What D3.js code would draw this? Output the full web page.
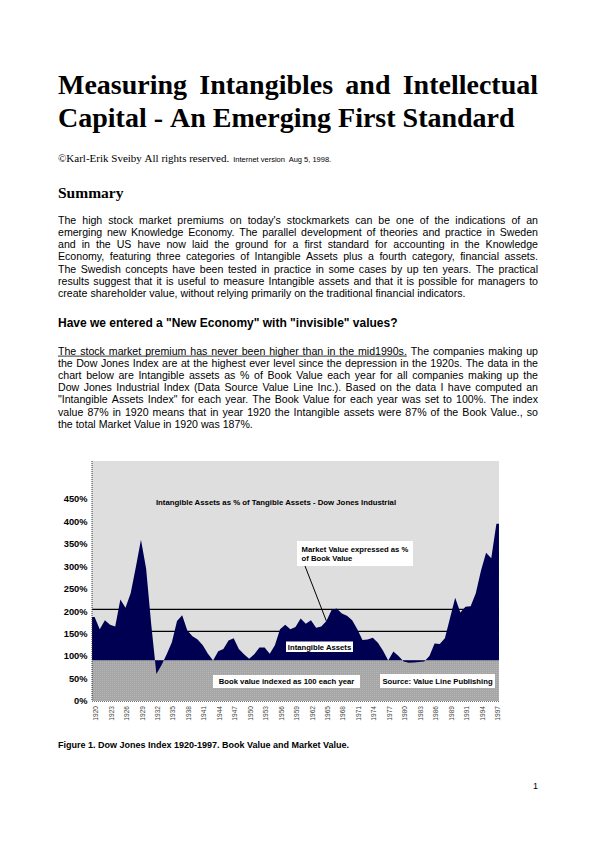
<!DOCTYPE html>
<html>
<head>
<meta charset="utf-8">
<script src="https://cdn.jsdelivr.net/npm/d3@7"></script>
<style>
  body { margin: 0; background: #fff; }
  svg { display: block; }
</style>
</head>
<body>
<svg id="page" width="595" height="842"></svg>
<script>
// ---- chart data ----
const years = [
  1920, 1921, 1922, 1923, 1924, 1925, 1926, 1927, 1928, 1929,
  1930, 1931, 1932, 1933, 1934, 1935, 1936, 1937, 1938, 1939,
  1940, 1941, 1942, 1943, 1944, 1945, 1946, 1947, 1948, 1949,
  1950, 1951, 1952, 1953, 1954, 1955, 1956, 1957, 1958, 1959,
  1960, 1961, 1962, 1963, 1964, 1965, 1966, 1967, 1968, 1969,
  1970, 1971, 1972, 1973, 1974, 1975, 1976, 1977, 1978, 1979,
  1980, 1981, 1982, 1983, 1984, 1985, 1986, 1987, 1988, 1989,
  1990, 1990, 1991, 1992, 1993, 1994, 1995, 1996, 1997
];
// market value as % of book value
const marketValue = [
  187, 160, 180, 170, 166, 226, 208, 240, 298, 359,
  295, 170, 60, 80, 104, 131, 178, 191, 157, 144,
  137, 124, 105, 90, 111, 116, 135, 140, 116, 104,
  94, 104, 119, 119, 105, 124, 160, 170, 160, 165,
  184, 172, 180, 163, 166, 178, 203, 206, 195, 190,
  180, 160, 136, 137, 141, 130, 112, 90, 110, 100,
  88, 85, 86, 87, 88, 100, 128, 127, 140, 185,
  230, 197, 210, 211, 240, 290, 330, 318, 395
];
const bookLevel = 91;          // top of the grey "book value" band as drawn
const refLines = [204, 155];   // the two black horizontal lines
const yTicks = [0, 50, 100, 150, 200, 250, 300, 350, 400, 450];

// ---- page text ----
const titleLines = [
  "Measuring Intangibles and Intellectual",
  "Capital - An Emerging First Standard"
];
const summaryLines = [
  "The high stock market premiums on today's stockmarkets can be one of the indications of an",
  "emerging new Knowledge Economy. The parallel development of theories and practice in Sweden",
  "and in the US have now laid the ground for a first standard for accounting in the Knowledge",
  "Economy, featuring three categories of Intangible Assets plus a fourth category, financial assets.",
  "The Swedish concepts have been tested in practice in some cases by up ten years. The practical",
  "results suggest that it is useful to measure Intangible assets and that it is possible for managers to",
  "create shareholder value, without relying primarily on the traditional financial indicators."
];
const economyLines = [
  "The stock market premium has never been higher than in the mid1990s. The companies making up",
  "the Dow Jones Index are at the highest ever level since the depression in the 1920s. The data in the",
  "chart below are Intangible assets as % of Book Value each year for all companies making up the",
  "Dow Jones Industrial Index (Data Source Value Line Inc.). Based on the data I have computed an",
  "\"Intangible Assets Index\" for each year. The Book Value for each year was set to 100%. The index",
  "value 87% in 1920 means that in year 1920 the Intangible assets were 87% of the Book Value., so",
  "the total Market Value in 1920 was 187%."
];

const serif = "'Liberation Serif', 'Times New Roman', serif";
const sans = "'Liberation Sans', Arial, sans-serif";

const svg = d3.select("#page");

// place a line of words, spreading them to fill width when justify is set
function wordLine(g, str, x0, y0, width, fontCss, justify, underlineWords) {
  const words = str.split(" ");
  const lg = g.append("g").style("font", fontCss).attr("fill", "#000");
  const probe = lg.append("text").text("a a");
  const probe2 = lg.append("text").text("aa");
  const spaceW = probe.node().getComputedTextLength() - probe2.node().getComputedTextLength();
  probe.remove(); probe2.remove();
  const nodes = words.map(w => lg.append("text").attr("y", y0).text(w));
  const ws = nodes.map(n => n.node().getComputedTextLength());
  const total = d3.sum(ws);
  let gap = spaceW, squeeze = 1;
  if (justify && words.length > 1) {
    gap = (width - total) / (words.length - 1);
    const minGap = spaceW * 0.7;
    if (gap < minGap) {
      squeeze = (width - minGap * (words.length - 1)) / total;
      gap = minGap;
    }
  }
  let cx = x0;
  const ends = [];
  nodes.forEach((n, i) => {
    const w = ws[i] * squeeze;
    n.attr("x", cx);
    if (squeeze !== 1) n.attr("textLength", w).attr("lengthAdjust", "spacingAndGlyphs");
    cx += w;
    ends.push(cx);
    cx += gap;
  });
  if (underlineWords) {
    lg.append("line")
      .attr("x1", x0).attr("x2", ends[underlineWords - 1])
      .attr("y1", y0 + 1.6).attr("y2", y0 + 1.6)
      .attr("stroke", "#000").attr("stroke-width", 0.8);
  }
  return ends[ends.length - 1];
}

const page = svg.append("g");

// title
wordLine(page, titleLines[0], 58, 93.5, 480, `bold 28px ${serif}`, true);
wordLine(page, titleLines[1], 58, 127, 480, `bold 28px ${serif}`, false);

// copyright line
const copyEnd = wordLine(page, "\u00a9Karl-Erik Sveiby All rights reserved.", 58, 162, 0, `11px ${serif}`, false);
page.append("text")
  .attr("x", copyEnd + 4).attr("y", 162)
  .style("font", `7.5px ${sans}`)
  .attr("xml:space", "preserve")
  .text("Internet version  Aug 5, 1998.");

// summary
page.append("text").attr("x", 58).attr("y", 198)
  .style("font", `bold 15.5px ${serif}`).text("Summary");
summaryLines.forEach((s, i) => {
  wordLine(page, s, 58, 223.5 + i * 12.33, 480, `10.6px ${sans}`, i < summaryLines.length - 1);
});

page.append("text").attr("x", 58).attr("y", 327)
  .style("font", `bold 12px ${sans}`)
  .text("Have we entered a \"New Economy\" with \"invisible\" values?");
economyLines.forEach((s, i) => {
  wordLine(page, s, 58, 354.5 + i * 12.2, 480, `10.6px ${sans}`, i < economyLines.length - 1, i === 0 ? 12 : 0);
});

// ---- chart ----
const plot = { left: 92, right: 499, top: 461, bottom: 701 };
const x = d3.scaleLinear().domain([0, years.length - 1]).range([94.6, 496.4]);
const y = d3.scaleLinear().domain([0, 450]).range([701, 499]);

const defs = svg.append("defs");
const pat = defs.append("pattern").attr("id", "stipple")
  .attr("width", 2).attr("height", 2).attr("patternUnits", "userSpaceOnUse");
pat.append("rect").attr("width", 2).attr("height", 2).attr("fill", "#a6a6a6");
pat.append("rect").attr("width", 1).attr("height", 1).attr("fill", "#b6b6b6");

const chart = svg.append("g");

chart.append("rect")
  .attr("x", plot.left).attr("y", plot.top)
  .attr("width", plot.right - plot.left).attr("height", plot.bottom - plot.top)
  .attr("fill", "#dedede");

chart.append("rect")
  .attr("x", plot.left).attr("y", y(bookLevel))
  .attr("width", plot.right - plot.left).attr("height", y(0) - y(bookLevel))
  .attr("fill", "url(#stipple)");

chart.selectAll(".ref")
  .data(refLines)
  .enter()
  .append("line")
  .attr("class", "ref")
  .attr("x1", plot.left).attr("x2", plot.right)
  .attr("y1", d => y(d)).attr("y2", d => y(d))
  .attr("stroke", "#000").attr("stroke-width", 1.2);

// stretch the area to the plot edges like the original
const pts = marketValue.map((v, i) => ({ i: i, v: v }));
pts.unshift({ i: -0.5, v: marketValue[0] });
pts.push({ i: marketValue.length - 0.5, v: marketValue[marketValue.length - 1] });

const area = d3.area()
  .x(d => x(d.i))
  .y0(y(bookLevel))
  .y1(d => y(d.v));

chart.append("path")
  .datum(pts)
  .attr("d", area)
  .attr("fill", "#000052");

// axes
chart.append("line")
  .attr("x1", plot.left).attr("x2", plot.left)
  .attr("y1", plot.top).attr("y2", plot.bottom)
  .attr("stroke", "#333").attr("stroke-width", 1)
  .attr("stroke-dasharray", "1,1");
chart.append("line")
  .attr("x1", plot.left).attr("x2", plot.right)
  .attr("y1", plot.bottom + 0.5).attr("y2", plot.bottom + 0.5)
  .attr("stroke", "#777").attr("stroke-width", 1)
  .attr("stroke-dasharray", "1,1");

chart.selectAll(".ytick")
  .data(yTicks)
  .enter()
  .append("text")
  .attr("class", "ytick")
  .attr("x", 87.5)
  .attr("y", d => y(d) + 3.3)
  .attr("text-anchor", "end")
  .style("font", `bold 9.3px ${sans}`)
  .text(d => d + "%");

chart.selectAll(".xtick")
  .data(years.map((yr, i) => ({ yr: yr, i: i })).filter(d => d.i % 3 === 0))
  .enter()
  .append("text")
  .attr("class", "xtick")
  .attr("transform", d => `translate(${x(d.i) + 3.6},${plot.bottom + 5}) rotate(-90)`)
  .attr("text-anchor", "end")
  .style("font", `6.6px ${sans}`)
  .attr("fill", "#444")
  .text(d => d.yr);

// chart title
chart.append("text")
  .attr("x", 276).attr("y", 504.5)
  .attr("text-anchor", "middle")
  .style("font", `bold 7.8px ${sans}`)
  .text("Intangible Assets as % of Tangible Assets - Dow Jones Industrial");

// labels in white boxes
const boxes = [
  { x: 297, y: 541, w: 116, h: 25, lines: ["Market Value expressed as %", "of Book Value"], anchor: "start" },
  { x: 286, y: 641.5, w: 67, h: 10.5, lines: ["Intangible Assets"], anchor: "middle" },
  { x: 213, y: 675, w: 147, h: 13, lines: ["Book value indexed as 100 each year"], anchor: "middle" },
  { x: 380, y: 674, w: 115, h: 14, lines: ["Source: Value Line Publishing"], anchor: "middle" }
];
const bx = chart.selectAll(".box").data(boxes).enter().append("g").attr("class", "box");
bx.append("rect")
  .attr("x", d => d.x).attr("y", d => d.y)
  .attr("width", d => d.w).attr("height", d => d.h)
  .attr("fill", "#fff");
bx.each(function (d) {
  const g = d3.select(this);
  const n = d.lines.length;
  d.lines.forEach((s, k) => {
    g.append("text")
      .attr("x", d.anchor === "middle" ? d.x + d.w / 2 : d.x + 4.5)
      .attr("y", d.y + d.h / 2 + 2.8 + (k - (n - 1) / 2) * 9)
      .attr("text-anchor", d.anchor)
      .style("font", `bold 7.7px ${sans}`)
      .text(s);
  });
});

// pointer from the market value label to the area
chart.append("line")
  .attr("x1", 305).attr("y1", 566)
  .attr("x2", x(45)).attr("y2", y(178))
  .attr("stroke", "#000").attr("stroke-width", 1);

// caption and page number
svg.append("text").attr("x", 58).attr("y", 748)
  .style("font", `bold 9px ${sans}`)
  .text("Figure 1. Dow Jones Index 1920-1997. Book Value and Market Value.");
svg.append("text").attr("x", 538).attr("y", 789)
  .attr("text-anchor", "end")
  .style("font", `9px ${sans}`)
  .text("1");
</script>
</body>
</html>
